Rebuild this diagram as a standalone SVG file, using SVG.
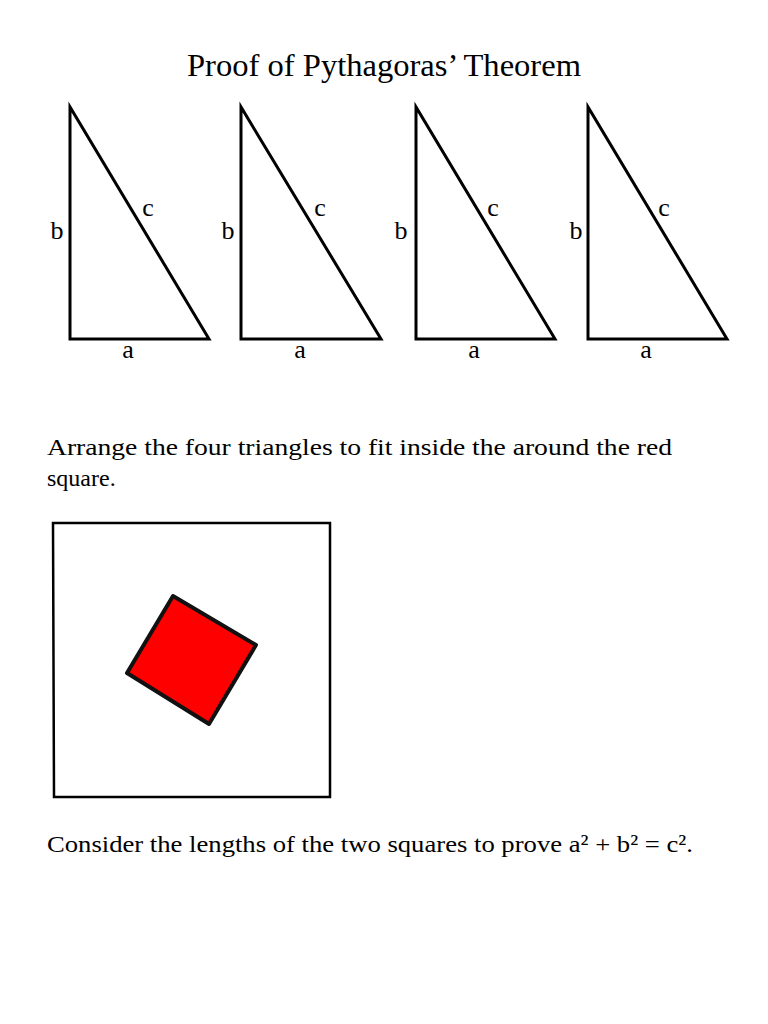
<svg xmlns="http://www.w3.org/2000/svg" width="768" height="1024" viewBox="0 0 768 1024">
<style>
.t{font-family:"Liberation Serif","DejaVu Serif",serif;fill:#000}
.tri{fill:none;stroke:#000;stroke-width:3;stroke-linejoin:miter}
.lbl{font-size:26px}
.body{font-size:24px}
</style>
<rect width="768" height="1024" fill="#fff"/>
<text class="t" x="384" y="76" font-size="31" text-anchor="middle" textLength="394" lengthAdjust="spacingAndGlyphs">Proof of Pythagoras’ Theorem</text>
<g id="tri1">
<polygon class="tri" points="70,107 70,339 209,339"/>
<text class="t lbl" x="57" y="239" text-anchor="middle">b</text>
<text class="t lbl" x="148" y="216" text-anchor="middle">c</text>
<text class="t lbl" x="128" y="358" text-anchor="middle">a</text>
</g>
<g id="tri2">
<polygon class="tri" points="241,107 241,339 381,339"/>
<text class="t lbl" x="228" y="239" text-anchor="middle">b</text>
<text class="t lbl" x="320" y="216" text-anchor="middle">c</text>
<text class="t lbl" x="300" y="358" text-anchor="middle">a</text>
</g>
<g id="tri3">
<polygon class="tri" points="416,107 416,339 555,339"/>
<text class="t lbl" x="401" y="239" text-anchor="middle">b</text>
<text class="t lbl" x="493" y="216" text-anchor="middle">c</text>
<text class="t lbl" x="474" y="358" text-anchor="middle">a</text>
</g>
<g id="tri4">
<polygon class="tri" points="588,107 588,339 727,339"/>
<text class="t lbl" x="576" y="239" text-anchor="middle">b</text>
<text class="t lbl" x="664" y="216" text-anchor="middle">c</text>
<text class="t lbl" x="646" y="358" text-anchor="middle">a</text>
</g>
<text class="t body" x="47" y="455" textLength="625" lengthAdjust="spacingAndGlyphs">Arrange the four triangles to fit inside the around the red</text>
<text class="t body" x="47" y="486">square.</text>
<g id="outer-square">
<polygon points="53,523 330,523 330,797 54,797" fill="none" stroke="#000" stroke-width="2.5"/>
</g>
<g id="red-square">
<polygon points="173,596 256,645 209,724 127,673" fill="#ff0000" stroke="#111" stroke-width="4" stroke-linejoin="round"/>
</g>
<text class="t body" x="47" y="852" textLength="646" lengthAdjust="spacingAndGlyphs">Consider the lengths of the two squares to prove a² + b² = c².</text>
</svg>
